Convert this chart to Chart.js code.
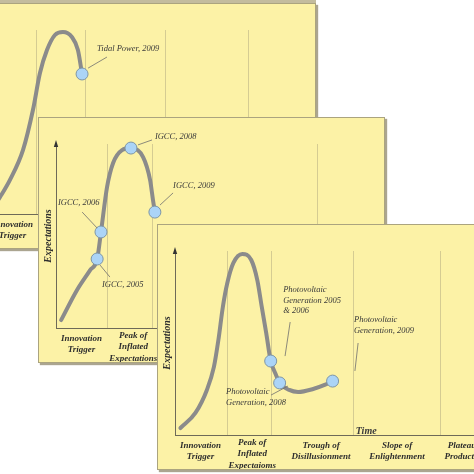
<!DOCTYPE html>
<html><head><meta charset="utf-8">
<script src="https://cdn.jsdelivr.net/npm/chart.js@4.4.1/dist/chart.umd.min.js"></script>
<style>
html,body{margin:0;padding:0;background:#fff;width:474px;height:474px;overflow:hidden;position:relative}
.panel{position:absolute;width:345px;height:244px;border:1px solid #aba47f;background:#fcf2a6;box-shadow:2px 2px 1px rgba(115,105,70,.6)}
.panel canvas{display:block}
#topstrip{position:absolute;left:0;top:0;width:316px;height:3px;background:#c3bc9e}
</style></head><body>
<div id="topstrip"></div>
<div class="panel" style="left:-31px;top:3px"><canvas id="c1" width="345" height="244"></canvas></div>
<div class="panel" style="left:38px;top:117px"><canvas id="c2" width="345" height="244"></canvas></div>
<div class="panel" style="left:157px;top:224px"><canvas id="c3" width="345" height="244"></canvas></div>
<script>
// ---- data (x: time 0-100, y: expectations 0-100) ----
const phaseCenters = [8.0, 24.2, 45.8, 69.6, 91.5];
const phaseNamesA = [["Innovation","Trigger"],["Peak of","Inflated","Expectations"],["Trough of","Disillusionment"],["Slope of","Enlightenment"],["Plateau of","Productivity"]];
const phaseNamesB = [["Innovation","Trigger"],["Peak of","Inflated","Expectaioms"],["Trough of","Disillusionment"],["Slope of","Enlightenment"],["Plateau of","Productivity"]];

// Panel 1: Tidal Power
const tidalBounds = [15.4, 31.0, 55.8, 82.1];
const tidalX = [1.9, 4.1, 7.2, 11.3, 14.4, 16.6, 18.8, 21.3, 23.8, 26.6, 28.5, 29.8];
const tidalY = [3.3, 9.2, 18.5, 34.8, 56.5, 76.6, 89.1, 97.3, 98.9, 96.2, 89.1, 76.1];
const tidalMarkX = [29.8];
const tidalMarkY = [76.1];

// Panel 2: IGCC
const igccBounds = [16.0, 30.1, 82.1];
const igccX = [1.6, 6.6, 10.7, 12.9, 14.1, 16.0, 17.9, 20.7, 23.5, 27.3, 29.5, 30.4, 31.0];
const igccY = [4.3, 20.7, 31.5, 37.5, 52.2, 76.6, 89.7, 96.7, 97.8, 92.9, 80.4, 69.6, 63.0];
const igccMarkX = [12.9, 14.1, 23.5, 31.0];
const igccMarkY = [37.5, 52.2, 97.8, 63.0];

// Panel 3: Photovoltaic Generation
const pvBounds = [16.6, 30.1, 56.1, 83.1];
const pvX = [1.7, 6.4, 10.0, 12.2, 13.6, 15.0, 16.4, 18.3, 21.1, 23.9, 25.8, 27.2, 28.6, 30.0, 31.4, 32.8, 35.8, 38.6, 43.3, 46.9, 49.4];
const pvY = [3.8, 12.0, 24.5, 37.0, 51.6, 69.6, 82.6, 93.5, 98.4, 95.1, 84.2, 69.6, 55.4, 40.2, 33.7, 28.3, 24.5, 23.4, 25.0, 27.2, 29.3];
const pvMarkX = [30.0, 32.8, 49.4];
const pvMarkY = [40.2, 28.3, 29.3];

// ---- annotation layout ----
const tidalNotes = [
  {lines:["Tidal Power, 2009"], at:[34.5,89.7], from:[31.7,79.3], to:[37.6,85.3]}
];
const igccNotes = [
  {lines:["IGCC, 2008"], at:[31.0,103.8], from:[25.7,99.5], to:[30.1,102.2]},
  {lines:["IGCC, 2009"], at:[36.7,77.2], from:[32.6,66.8], to:[36.7,73.4]},
  {lines:["IGCC, 2006"], at:[0.6,67.9], from:[8.2,63.0], to:[12.9,54.3]},
  {lines:["IGCC, 2005"], at:[14.4,23.4], from:[13.8,34.2], to:[16.9,27.7]}
];
const pvNotes = [
  {lines:["Photovoltaic","Generation 2005","& 2006"], at:[33.9,78.8], from:[34.5,42.9], to:[36.1,61.4]},
  {lines:["Photovoltaic","Generation, 2008"], at:[16.0,23.4], from:[30.1,21.7], to:[35.4,26.6]},
  {lines:["Photovoltaic","Generation, 2009"], at:[56.1,62.5], from:[56.4,34.8], to:[57.4,50.0]},
  {lines:["Time"], at:[56.7,1.8], bold:true}
];

const SERIF = '"Liberation Serif","DejaVu Serif",serif';

const hypePlugin = {
  id: 'hype',
  afterDatasetsDraw(chart, args, o) {
    const ctx = chart.ctx, xs = chart.scales.x, ys = chart.scales.y, a = chart.chartArea;
    ctx.save();
    // y-axis arrow head
    ctx.fillStyle = '#333';
    ctx.beginPath();
    ctx.moveTo(a.left, a.top - 4);
    ctx.lineTo(a.left - 2.2, a.top + 3);
    ctx.lineTo(a.left + 2.2, a.top + 3);
    ctx.closePath(); ctx.fill();
    // axis title
    ctx.save();
    ctx.translate(a.left - 8, (a.top + a.bottom) / 2);
    ctx.rotate(-Math.PI / 2);
    ctx.font = 'italic bold 10px ' + SERIF;
    ctx.fillStyle = '#2e2e2e';
    ctx.textAlign = 'center'; ctx.textBaseline = 'middle';
    ctx.fillText('Expectations', 0, 0);
    ctx.restore();
    // phase labels
    ctx.font = 'italic bold 9px ' + SERIF;
    ctx.fillStyle = '#2e2e2e';
    ctx.textAlign = 'center'; ctx.textBaseline = 'middle';
    o.phases.forEach((lines, i) => {
      const x = xs.getPixelForValue(phaseCenters[i]);
      const y0 = a.bottom + (lines.length === 3 ? 7.5 : 10.5);
      lines.forEach((t, k) => ctx.fillText(t, x, y0 + k * 11.5));
    });
    // notes
    o.notes.forEach(n => {
      if (n.from) {
        ctx.strokeStyle = '#6f6f6f'; ctx.lineWidth = 0.8;
        ctx.beginPath();
        ctx.moveTo(xs.getPixelForValue(n.from[0]), ys.getPixelForValue(n.from[1]));
        ctx.lineTo(xs.getPixelForValue(n.to[0]), ys.getPixelForValue(n.to[1]));
        ctx.stroke();
      }
      ctx.font = (n.bold ? 'italic bold 10px ' : 'italic 8.5px ') + SERIF;
      ctx.fillStyle = '#3a3a3a';
      ctx.textAlign = 'left'; ctx.textBaseline = 'middle';
      const x = xs.getPixelForValue(n.at[0]), y = ys.getPixelForValue(n.at[1]);
      n.lines.forEach((t, k) => ctx.fillText(t, x, y + k * 10.5));
    });
    ctx.restore();
  }
};

function makeChart(id, cx, cy, mx, my, bounds, notes, phases) {
  const curve = cx.map((x, i) => ({x, y: cy[i]}));
  const marks = mx.map((x, i) => ({x, y: my[i]}));
  return new Chart(document.getElementById(id), {
    type: 'line',
    data: {datasets: [
      {data: marks, showLine: false, order: 0, clip: false, pointRadius: 6, pointHoverRadius: 6,
       pointBackgroundColor: '#abd4f7', pointBorderColor: '#7d95a6', pointBorderWidth: 1},
      {data: curve, order: 1, clip: false, borderColor: '#8b8b8b', borderWidth: 4, pointRadius: 0,
       cubicInterpolationMode: 'monotone', borderCapStyle: 'round', borderJoinStyle: 'round', fill: false}
    ]},
    options: {
      responsive: false, animation: false, events: [],
      layout: {padding: {left: 17, top: 26, right: 9, bottom: 34}},
      plugins: {legend: {display: false}, tooltip: {enabled: false}, hype: {notes, phases}},
      scales: {
        x: {type: 'linear', min: 0, max: 100,
            afterBuildTicks: s => { s.ticks = bounds.map(v => ({value: v})); },
            ticks: {display: false},
            grid: {display: true, drawTicks: false, color: 'rgba(140,135,110,0.35)', lineWidth: 1},
            border: {display: true, color: '#6e6a58', width: 1}},
        y: {type: 'linear', min: 0, max: 100,
            ticks: {display: false},
            grid: {display: false, drawTicks: false},
            border: {display: true, color: '#6e6a58', width: 1}}
      }
    },
    plugins: [hypePlugin]
  });
}

makeChart('c1', tidalX, tidalY, tidalMarkX, tidalMarkY, tidalBounds, tidalNotes, phaseNamesA);
makeChart('c2', igccX, igccY, igccMarkX, igccMarkY, igccBounds, igccNotes, phaseNamesA);
makeChart('c3', pvX, pvY, pvMarkX, pvMarkY, pvBounds, pvNotes, phaseNamesB);
</script>
</body></html>
